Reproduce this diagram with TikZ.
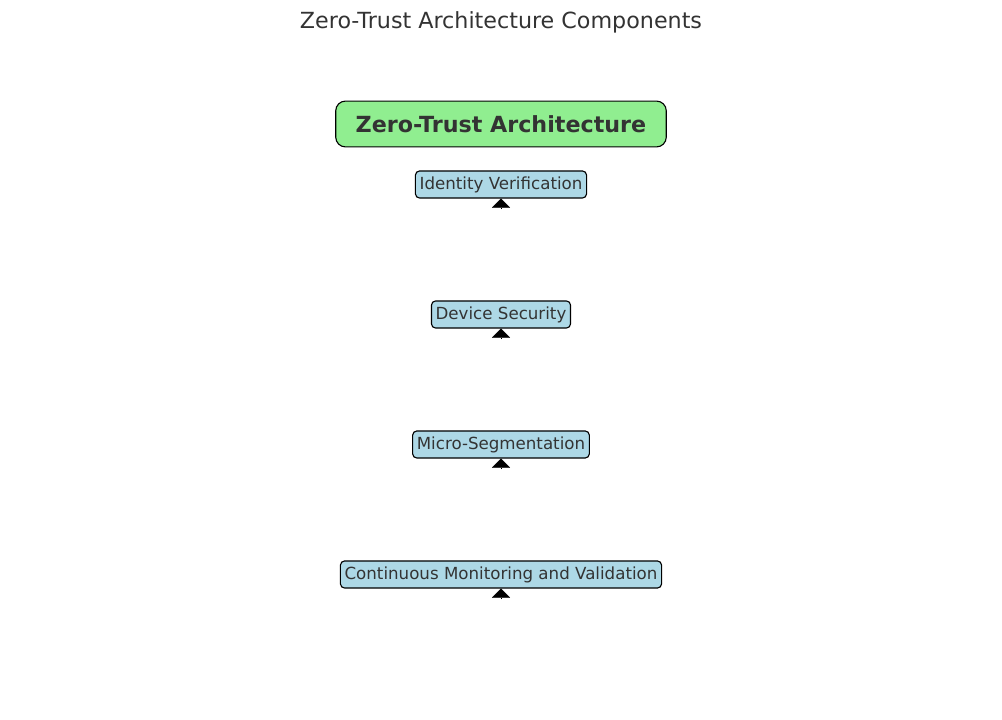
\documentclass[tikz,border=0pt]{standalone}
\usepackage{fontspec}
\setmainfont{DejaVu Sans}
\usetikzlibrary{arrows.meta,positioning}
\definecolor{txtgray}{HTML}{333333}
\definecolor{mainfill}{HTML}{90EE90}
\definecolor{compfill}{HTML}{ADD8E6}
\tikzset{
  mainbox/.style={rectangle, rounded corners=7pt, draw=black, thick, fill=mainfill, text=txtgray, font=\fontsize{16}{19}\selectfont\bfseries, minimum width=238pt, minimum height=33pt, inner sep=2pt},
  compbox/.style={rectangle, rounded corners=3pt, draw=black, thick, fill=compfill, text=txtgray, font=\fontsize{12}{14}\selectfont, minimum height=19.5pt, inner sep=3pt},
  uparrow/.style={-{Triangle[width=13pt,length=6.5pt]}, line width=0.1pt}
}
\begin{document}
\begin{tikzpicture}[x=0.72pt,y=-0.72pt]
    \useasboundingbox (0,0) rectangle (1002,720);

    % Title
    \node[text=txtgray, font=\fontsize{16}{19}\selectfont] (title) at (501,22) {Zero-Trust Architecture Components};

    % Nodes
    \node[mainbox] (zta) at (501,124) {Zero-Trust Architecture};
    \node[compbox] (idv) at (501,184.5) {Identity Verification};
    \node[compbox] (dev) at (501,314.5) {Device Security};
    \node[compbox] (mseg) at (501,444.5) {Micro-Segmentation};
    \node[compbox] (cmon) at (501,574.5) {Continuous Monitoring and Validation};

    % Arrows
    \foreach \n in {idv,dev,mseg,cmon}{
      \coordinate (\n-foot) at ([yshift=-7.5pt]\n.south);
      \draw[uparrow] (\n-foot) -- (\n.south);
    }

\end{tikzpicture}
\end{document}
